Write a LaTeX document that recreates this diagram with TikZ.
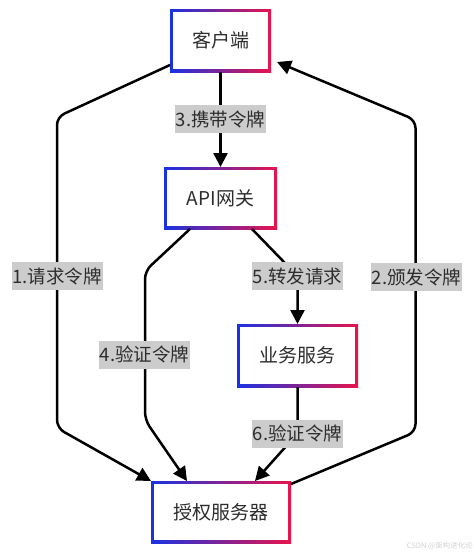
\documentclass[tikz,border=0pt]{standalone}
\usepackage{fontspec}
\setmainfont{Noto Sans CJK SC}
\usetikzlibrary{arrows.meta,calc}
\definecolor{cblue}{RGB}{25,50,225}
\definecolor{cred}{RGB}{232,20,75}
\definecolor{txt}{RGB}{45,45,45}
\definecolor{lblbg}{RGB}{204,204,204}
\begin{document}
\begin{tikzpicture}[x=1pt,y=-1pt,
  gbox/.style={inner sep=0pt, outer sep=0pt, minimum height=62pt, text=txt,
    font=\fontsize{19}{19}\selectfont, fill=white,
    path picture={
      \shade[left color=cblue,right color=cred]
        (path picture bounding box.south west) rectangle (path picture bounding box.north east);
      \fill[white]
        ([shift={(2.6pt,2.6pt)}]path picture bounding box.south west) rectangle
        ([shift={(-2.6pt,-2.6pt)}]path picture bounding box.north east);
    }},
  lbl/.style={fill=lblbg, text=txt, inner sep=0pt, minimum width=91pt, minimum height=28pt,
    font=\fontsize{18.5}{18.5}\selectfont},
  conn/.style={line width=2.5pt, rounded corners=8pt, line join=round,
    -{Triangle[length=14pt,width=14pt]}}
]
\useasboundingbox (0,0) rectangle (474,555);

% boxes
\node[gbox, minimum width=101pt, minimum height=63pt] (client) at (220.5,40.5) {客户端};
\node[gbox, minimum width=113pt] (api) at (220.5,198) {API网关};
\node[gbox, minimum width=121pt, minimum height=63pt] (biz) at (297.5,355.5) {业务服务};
\node[gbox, minimum width=140pt] (auth) at (221,512) {授权服务器};

% label positions
\coordinate (p1) at (57,276);
\coordinate (p2) at (416.5,277);
\coordinate (p3) at (220.5,119);
\coordinate (p4) at (144.5,354.5);
\coordinate (p5) at (297.5,276);
\coordinate (p6) at (297.5,433.5);

% connectors
\draw[conn] ([yshift=7pt]client.south west) -- (57,117) -- (57,428) -- (auth.north west);
\draw[conn] ([yshift=-3pt]auth.north east) -- (415.5,432) -- (415.5,120) -- ([xshift=6pt,yshift=10pt]client.south east);
\draw[conn] (client.south) -- (api.north);
\draw[conn] ([xshift=26pt]api.south west) -- (145,271) -- (145,420) -- ([xshift=36pt]auth.north west);
\draw[conn] ([xshift=-25pt]api.south east) -- (p5) -- (biz.north);
\draw[conn] (biz.south) -- (p6) -- ([xshift=-36pt]auth.north east);

% labels
\node[lbl] (l1) at (p1) {1.请求令牌};
\node[lbl] (l2) at (p2) {2.颁发令牌};
\node[lbl] (l3) at (p3) {3.携带令牌};
\node[lbl] (l4) at (p4) {4.验证令牌};
\node[lbl] (l5) at (p5) {5.转发请求};
\node[lbl] (l6) at (p6) {6.验证令牌};

% watermark
\node[text=black!18, font=\fontsize{7.5}{7.5}\selectfont, inner sep=0pt, anchor=east] (wm) at (473,546) {CSDN @架构进化论};
\end{tikzpicture}
\end{document}
